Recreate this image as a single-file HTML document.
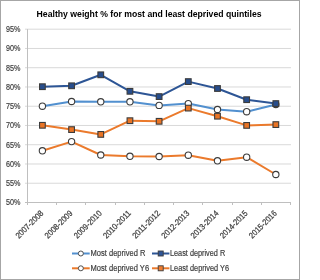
<!DOCTYPE html><html><head><meta charset="utf-8"><style>html,body{margin:0;padding:0;background:#fff;}svg{display:block;will-change:transform;}text{font-family:"Liberation Sans",sans-serif;}</style></head><body>
<svg width="300" height="280" viewBox="0 0 300 280">
<rect x="0" y="0" width="300" height="280" fill="#fff"/>
<rect x="0.5" y="0.5" width="299" height="279" fill="none" stroke="#a6a6a6" stroke-width="1"/>
<text x="36.6" y="16.6" font-size="9.2" font-weight="bold" fill="#000" textLength="225" lengthAdjust="spacingAndGlyphs">Healthy weight % for most and least deprived quintiles</text>
<line x1="25" y1="29.20" x2="291.00" y2="29.20" stroke="#d9d9d9" stroke-width="1"/>
<line x1="25" y1="48.46" x2="291.00" y2="48.46" stroke="#d9d9d9" stroke-width="1"/>
<line x1="25" y1="67.71" x2="291.00" y2="67.71" stroke="#d9d9d9" stroke-width="1"/>
<line x1="25" y1="86.97" x2="291.00" y2="86.97" stroke="#d9d9d9" stroke-width="1"/>
<line x1="25" y1="106.22" x2="291.00" y2="106.22" stroke="#d9d9d9" stroke-width="1"/>
<line x1="25" y1="125.48" x2="291.00" y2="125.48" stroke="#d9d9d9" stroke-width="1"/>
<line x1="25" y1="144.73" x2="291.00" y2="144.73" stroke="#d9d9d9" stroke-width="1"/>
<line x1="25" y1="163.99" x2="291.00" y2="163.99" stroke="#d9d9d9" stroke-width="1"/>
<line x1="25" y1="183.24" x2="291.00" y2="183.24" stroke="#d9d9d9" stroke-width="1"/>
<text x="20.4" y="32.00" font-size="9" fill="#404040" stroke="#404040" stroke-width="0.2" text-anchor="end" textLength="14.4" lengthAdjust="spacingAndGlyphs">95%</text>
<text x="20.4" y="51.26" font-size="9" fill="#404040" stroke="#404040" stroke-width="0.2" text-anchor="end" textLength="14.4" lengthAdjust="spacingAndGlyphs">90%</text>
<text x="20.4" y="70.51" font-size="9" fill="#404040" stroke="#404040" stroke-width="0.2" text-anchor="end" textLength="14.4" lengthAdjust="spacingAndGlyphs">85%</text>
<text x="20.4" y="89.77" font-size="9" fill="#404040" stroke="#404040" stroke-width="0.2" text-anchor="end" textLength="14.4" lengthAdjust="spacingAndGlyphs">80%</text>
<text x="20.4" y="109.02" font-size="9" fill="#404040" stroke="#404040" stroke-width="0.2" text-anchor="end" textLength="14.4" lengthAdjust="spacingAndGlyphs">75%</text>
<text x="20.4" y="128.28" font-size="9" fill="#404040" stroke="#404040" stroke-width="0.2" text-anchor="end" textLength="14.4" lengthAdjust="spacingAndGlyphs">70%</text>
<text x="20.4" y="147.53" font-size="9" fill="#404040" stroke="#404040" stroke-width="0.2" text-anchor="end" textLength="14.4" lengthAdjust="spacingAndGlyphs">65%</text>
<text x="20.4" y="166.79" font-size="9" fill="#404040" stroke="#404040" stroke-width="0.2" text-anchor="end" textLength="14.4" lengthAdjust="spacingAndGlyphs">60%</text>
<text x="20.4" y="186.04" font-size="9" fill="#404040" stroke="#404040" stroke-width="0.2" text-anchor="end" textLength="14.4" lengthAdjust="spacingAndGlyphs">55%</text>
<text x="20.4" y="205.30" font-size="9" fill="#404040" stroke="#404040" stroke-width="0.2" text-anchor="end" textLength="14.4" lengthAdjust="spacingAndGlyphs">50%</text>
<line x1="27.5" y1="29.2" x2="27.5" y2="205.0" stroke="#bfbfbf" stroke-width="1"/>
<line x1="25" y1="202.5" x2="291.0" y2="202.5" stroke="#bfbfbf" stroke-width="1"/>
<line x1="27.5" y1="202.5" x2="27.5" y2="205.0" stroke="#bfbfbf" stroke-width="1"/>
<line x1="56.5" y1="202.5" x2="56.5" y2="205.0" stroke="#bfbfbf" stroke-width="1"/>
<line x1="85.5" y1="202.5" x2="85.5" y2="205.0" stroke="#bfbfbf" stroke-width="1"/>
<line x1="115.5" y1="202.5" x2="115.5" y2="205.0" stroke="#bfbfbf" stroke-width="1"/>
<line x1="144.5" y1="202.5" x2="144.5" y2="205.0" stroke="#bfbfbf" stroke-width="1"/>
<line x1="173.5" y1="202.5" x2="173.5" y2="205.0" stroke="#bfbfbf" stroke-width="1"/>
<line x1="202.5" y1="202.5" x2="202.5" y2="205.0" stroke="#bfbfbf" stroke-width="1"/>
<line x1="232.5" y1="202.5" x2="232.5" y2="205.0" stroke="#bfbfbf" stroke-width="1"/>
<line x1="261.5" y1="202.5" x2="261.5" y2="205.0" stroke="#bfbfbf" stroke-width="1"/>
<line x1="290.5" y1="202.5" x2="290.5" y2="205.0" stroke="#bfbfbf" stroke-width="1"/>
<text transform="translate(41.90,211.70) rotate(-45)" x="0" y="3" font-size="8.4" fill="#404040" stroke="#404040" stroke-width="0.25" text-anchor="end" textLength="35.5" lengthAdjust="spacingAndGlyphs">2007-2008</text>
<text transform="translate(71.08,211.70) rotate(-45)" x="0" y="3" font-size="8.4" fill="#404040" stroke="#404040" stroke-width="0.25" text-anchor="end" textLength="35.5" lengthAdjust="spacingAndGlyphs">2008-2009</text>
<text transform="translate(100.26,211.70) rotate(-45)" x="0" y="3" font-size="8.4" fill="#404040" stroke="#404040" stroke-width="0.25" text-anchor="end" textLength="35.5" lengthAdjust="spacingAndGlyphs">2009-2010</text>
<text transform="translate(129.44,211.70) rotate(-45)" x="0" y="3" font-size="8.4" fill="#404040" stroke="#404040" stroke-width="0.25" text-anchor="end" textLength="35.5" lengthAdjust="spacingAndGlyphs">2010-2011</text>
<text transform="translate(158.62,211.70) rotate(-45)" x="0" y="3" font-size="8.4" fill="#404040" stroke="#404040" stroke-width="0.25" text-anchor="end" textLength="35.5" lengthAdjust="spacingAndGlyphs">2011-2012</text>
<text transform="translate(187.80,211.70) rotate(-45)" x="0" y="3" font-size="8.4" fill="#404040" stroke="#404040" stroke-width="0.25" text-anchor="end" textLength="35.5" lengthAdjust="spacingAndGlyphs">2012-2013</text>
<text transform="translate(216.98,211.70) rotate(-45)" x="0" y="3" font-size="8.4" fill="#404040" stroke="#404040" stroke-width="0.25" text-anchor="end" textLength="35.5" lengthAdjust="spacingAndGlyphs">2013-2014</text>
<text transform="translate(246.16,211.70) rotate(-45)" x="0" y="3" font-size="8.4" fill="#404040" stroke="#404040" stroke-width="0.25" text-anchor="end" textLength="35.5" lengthAdjust="spacingAndGlyphs">2014-2015</text>
<text transform="translate(275.34,211.70) rotate(-45)" x="0" y="3" font-size="8.4" fill="#404040" stroke="#404040" stroke-width="0.25" text-anchor="end" textLength="35.5" lengthAdjust="spacingAndGlyphs">2015-2016</text>
<polyline points="42.40,106.20 71.58,101.50 100.76,101.80 129.94,101.80 159.12,105.40 188.30,103.60 217.48,109.50 246.66,111.70 275.84,104.50" fill="none" stroke="#5290cf" stroke-width="2.0" stroke-linejoin="round" stroke-linecap="round"/>
<circle cx="42.40" cy="106.20" r="3.15" fill="#fff" stroke="#3c3c3c" stroke-width="1.1"/><circle cx="71.58" cy="101.50" r="3.15" fill="#fff" stroke="#3c3c3c" stroke-width="1.1"/><circle cx="100.76" cy="101.80" r="3.15" fill="#fff" stroke="#3c3c3c" stroke-width="1.1"/><circle cx="129.94" cy="101.80" r="3.15" fill="#fff" stroke="#3c3c3c" stroke-width="1.1"/><circle cx="159.12" cy="105.40" r="3.15" fill="#fff" stroke="#3c3c3c" stroke-width="1.1"/><circle cx="188.30" cy="103.60" r="3.15" fill="#fff" stroke="#3c3c3c" stroke-width="1.1"/><circle cx="217.48" cy="109.50" r="3.15" fill="#fff" stroke="#3c3c3c" stroke-width="1.1"/><circle cx="246.66" cy="111.70" r="3.15" fill="#fff" stroke="#3c3c3c" stroke-width="1.1"/><circle cx="275.84" cy="104.50" r="3.15" fill="#fff" stroke="#3c3c3c" stroke-width="1.1"/>
<polyline points="42.40,86.70 71.58,85.80 100.76,74.80 129.94,91.30 159.12,96.60 188.30,81.60 217.48,88.50 246.66,99.70 275.84,103.60" fill="none" stroke="#2d5595" stroke-width="2.0" stroke-linejoin="round" stroke-linecap="round"/>
<rect x="39.55" y="83.85" width="5.7" height="5.7" fill="#274d8c" stroke="#3c3c3c" stroke-width="1.1"/><rect x="68.73" y="82.95" width="5.7" height="5.7" fill="#274d8c" stroke="#3c3c3c" stroke-width="1.1"/><rect x="97.91" y="71.95" width="5.7" height="5.7" fill="#274d8c" stroke="#3c3c3c" stroke-width="1.1"/><rect x="127.09" y="88.45" width="5.7" height="5.7" fill="#274d8c" stroke="#3c3c3c" stroke-width="1.1"/><rect x="156.27" y="93.75" width="5.7" height="5.7" fill="#274d8c" stroke="#3c3c3c" stroke-width="1.1"/><rect x="185.45" y="78.75" width="5.7" height="5.7" fill="#274d8c" stroke="#3c3c3c" stroke-width="1.1"/><rect x="214.63" y="85.65" width="5.7" height="5.7" fill="#274d8c" stroke="#3c3c3c" stroke-width="1.1"/><rect x="243.81" y="96.85" width="5.7" height="5.7" fill="#274d8c" stroke="#3c3c3c" stroke-width="1.1"/><rect x="272.99" y="100.75" width="5.7" height="5.7" fill="#274d8c" stroke="#3c3c3c" stroke-width="1.1"/>
<polyline points="42.40,150.80 71.58,141.60 100.76,155.00 129.94,156.30 159.12,156.50 188.30,155.20 217.48,160.80 246.66,157.20 275.84,174.50" fill="none" stroke="#eb7a2c" stroke-width="2.0" stroke-linejoin="round" stroke-linecap="round"/>
<circle cx="42.40" cy="150.80" r="3.15" fill="#fff" stroke="#3c3c3c" stroke-width="1.1"/><circle cx="71.58" cy="141.60" r="3.15" fill="#fff" stroke="#3c3c3c" stroke-width="1.1"/><circle cx="100.76" cy="155.00" r="3.15" fill="#fff" stroke="#3c3c3c" stroke-width="1.1"/><circle cx="129.94" cy="156.30" r="3.15" fill="#fff" stroke="#3c3c3c" stroke-width="1.1"/><circle cx="159.12" cy="156.50" r="3.15" fill="#fff" stroke="#3c3c3c" stroke-width="1.1"/><circle cx="188.30" cy="155.20" r="3.15" fill="#fff" stroke="#3c3c3c" stroke-width="1.1"/><circle cx="217.48" cy="160.80" r="3.15" fill="#fff" stroke="#3c3c3c" stroke-width="1.1"/><circle cx="246.66" cy="157.20" r="3.15" fill="#fff" stroke="#3c3c3c" stroke-width="1.1"/><circle cx="275.84" cy="174.50" r="3.15" fill="#fff" stroke="#3c3c3c" stroke-width="1.1"/>
<polyline points="42.40,125.30 71.58,129.60 100.76,134.40 129.94,120.70 159.12,121.30 188.30,108.10 217.48,116.20 246.66,125.40 275.84,124.60" fill="none" stroke="#eb7a2c" stroke-width="2.0" stroke-linejoin="round" stroke-linecap="round"/>
<rect x="39.55" y="122.45" width="5.7" height="5.7" fill="#e97425" stroke="#3c3c3c" stroke-width="1.1"/><rect x="68.73" y="126.75" width="5.7" height="5.7" fill="#e97425" stroke="#3c3c3c" stroke-width="1.1"/><rect x="97.91" y="131.55" width="5.7" height="5.7" fill="#e97425" stroke="#3c3c3c" stroke-width="1.1"/><rect x="127.09" y="117.85" width="5.7" height="5.7" fill="#e97425" stroke="#3c3c3c" stroke-width="1.1"/><rect x="156.27" y="118.45" width="5.7" height="5.7" fill="#e97425" stroke="#3c3c3c" stroke-width="1.1"/><rect x="185.45" y="105.25" width="5.7" height="5.7" fill="#e97425" stroke="#3c3c3c" stroke-width="1.1"/><rect x="214.63" y="113.35" width="5.7" height="5.7" fill="#e97425" stroke="#3c3c3c" stroke-width="1.1"/><rect x="243.81" y="122.55" width="5.7" height="5.7" fill="#e97425" stroke="#3c3c3c" stroke-width="1.1"/><rect x="272.99" y="121.75" width="5.7" height="5.7" fill="#e97425" stroke="#3c3c3c" stroke-width="1.1"/>
<line x1="72" y1="253.5" x2="89.7" y2="253.5" stroke="#5290cf" stroke-width="2"/><circle cx="80.85" cy="253.5" r="2.5" fill="#fff" stroke="#3c3c3c" stroke-width="0.9"/><text x="90.6" y="256.1" font-size="9.2" fill="#404040" stroke="#404040" stroke-width="0.2" textLength="54.8" lengthAdjust="spacingAndGlyphs">Most deprived R</text>
<line x1="152" y1="253.5" x2="169.4" y2="253.5" stroke="#2d5595" stroke-width="2"/><rect x="158.2" y="251.0" width="5" height="5" fill="#2e5597" stroke="#3c3c3c" stroke-width="0.9"/><text x="170.0" y="256.1" font-size="9.2" fill="#404040" stroke="#404040" stroke-width="0.2" textLength="55.2" lengthAdjust="spacingAndGlyphs">Least deprived R</text>
<line x1="72" y1="268.3" x2="89.7" y2="268.3" stroke="#eb7a2c" stroke-width="2"/><circle cx="80.85" cy="268.3" r="2.5" fill="#fff" stroke="#3c3c3c" stroke-width="0.9"/><text x="90.6" y="270.90000000000003" font-size="9.2" fill="#404040" stroke="#404040" stroke-width="0.2" textLength="58.5" lengthAdjust="spacingAndGlyphs">Most deprived Y6</text>
<line x1="152" y1="268.3" x2="169.4" y2="268.3" stroke="#eb7a2c" stroke-width="2"/><rect x="158.2" y="265.8" width="5" height="5" fill="#ed7d31" stroke="#3c3c3c" stroke-width="0.9"/><text x="170.0" y="270.90000000000003" font-size="9.2" fill="#404040" stroke="#404040" stroke-width="0.2" textLength="59.1" lengthAdjust="spacingAndGlyphs">Least deprived Y6</text>
</svg></body></html>
